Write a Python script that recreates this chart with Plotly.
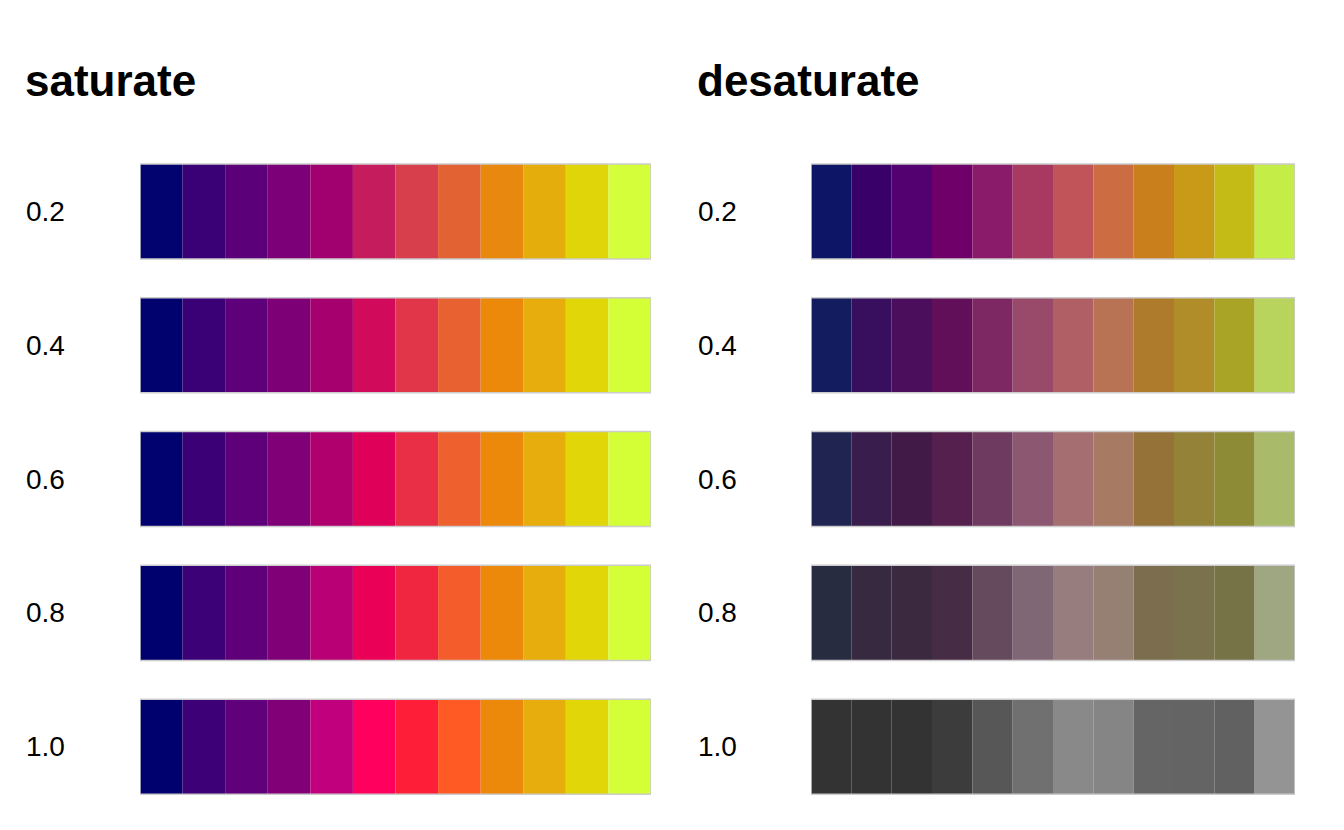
import plotly.graph_objects as go

levels = ["0.2", "0.4", "0.6", "0.8", "1.0"]
sat = [
 ["#03036F","#3A0075","#5C0079","#7C0077","#A1006F","#C41C5C","#D73F4C","#E26234","#E8880E","#E5AD0C","#E0D508","#D4FD3A"],
 ["#02026F","#3A0076","#5D007A","#7E0077","#A6006F","#D20A5C","#E1354A","#E86231","#EC890A","#E6AD0C","#E1D607","#D4FF36"],
 ["#01016F","#3B0076","#5E007A","#7F0077","#B0006E","#DE0059","#E82F45","#EE602E","#EC890A","#E6AD0C","#E1D607","#D4FF36"],
 ["#00006F","#3C0077","#5F007A","#800077","#BA0075","#EB0058","#F02640","#F45C2B","#EC890A","#E6AD0C","#E1D607","#D4FF36"],
 ["#00006F","#3D0077","#60007A","#810077","#C0007C","#FF005E","#FF1E38","#FF5A24","#EC890A","#E6AD0C","#E1D607","#D4FF36"],
]
desat = [
 ["#0D1566","#39006A","#530070","#6F006A","#8A1B6B","#A83A62","#C05459","#CB6C43","#C97F1B","#C99A18","#C4BB17","#C4EE47"],
 ["#131C5E","#380F5E","#4B0E5D","#620F59","#7D2862","#99496A","#B06065","#B87355","#AE7A2B","#B08D28","#A9A425","#B8D45C"],
 ["#1F2550","#381D4D","#421A48","#551F4E","#6F3A5F","#8C5770","#A56F71","#A67A63","#957238","#948238","#8D8B36","#A9BB6B"],
 ["#282C41","#37293F","#3B2A3F","#462D45","#644A5C","#806775","#977D7D","#967F73","#7B6D4D","#7A724C","#767447","#9EA682"],
 ["#333333","#333333","#333333","#3C3C3C","#575757","#707070","#898989","#858585","#656565","#646464","#616161","#949494"],
]
titles = ["saturate", "desaturate"]

W, H = 1344, 830
fig = go.Figure()
panels = [(sat, "x", "y", 132, 643, 16), (desat, "x2", "y2", 803, 1287, 688)]
for k, (cols, xa, ya, x0, x1, lx) in enumerate(panels):
    n = len(cols[0])
    for j in range(n):
        fig.add_trace(go.Bar(x=[1]*len(levels), base=[j]*len(levels), y=levels, orientation="h",
                             marker=dict(color=[row[j] for row in cols], line_width=0),
                             xaxis=xa, yaxis=ya, showlegend=False, hoverinfo="skip"))
    fig.add_trace(go.Bar(x=[n]*len(levels), base=[0]*len(levels), y=levels, orientation="h",
                         marker=dict(color="rgba(0,0,0,0)", line=dict(color="#CCCCCC", width=1.5)),
                         xaxis=xa, yaxis=ya, showlegend=False, hoverinfo="skip"))
    for i, lv in enumerate(levels):
        fig.add_annotation(x=lx/W, xref="paper", y=i, yref=ya, text=lv, showarrow=False,
                           xanchor="left", font=dict(size=28, color="black"))
    fig.add_annotation(x=(lx - 1)/W, xref="paper", y=1-72/H, yref="paper", text="<b>%s</b>" % titles[k],
                       showarrow=False, xanchor="left", yanchor="middle", font=dict(size=44, color="black"))
    ax = dict(domain=[x0/W, x1/W], range=[0, n], showgrid=False, zeroline=False, showticklabels=False)
    ay = dict(domain=[1-805.6/H, 1-136.5/H], range=[4.5, -0.5], showgrid=False, showticklabels=False,
              type="category", categoryorder="array", categoryarray=levels)
    if k == 0:
        fig.update_layout(xaxis=ax, yaxis=ay)
    else:
        ax["anchor"] = "y2"; ay["anchor"] = "x2"
        fig.update_layout(xaxis2=ax, yaxis2=ay)

fig.update_layout(width=W, height=H, margin=dict(l=0, r=0, t=0, b=0), barmode="overlay", bargap=0.29,
                  plot_bgcolor="white", paper_bgcolor="white",
                  font=dict(family="Liberation Sans, Arial, sans-serif"))
fig.write_html("out.html")
